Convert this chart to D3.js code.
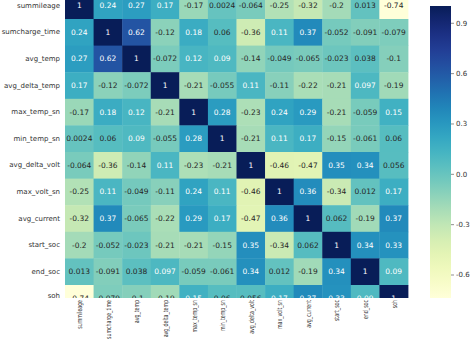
<!DOCTYPE html>
<html><head><meta charset="utf-8">
<script src="https://cdn.jsdelivr.net/npm/d3@7"></script>
<style>html,body{margin:0;padding:0;background:#fff;overflow:hidden}svg{display:block;font-family:"DejaVu Sans",sans-serif}</style>
</head><body><svg id="c" width="474" height="346"></svg>
<script>
const variables = ["summileage","sumcharge_time","avg_temp","avg_delta_temp","max_temp_sn","min_temp_sn","avg_delta_volt","max_volt_sn","avg_current","start_soc","end_soc","soh"];
const row_summileage     = [1, 0.24, 0.27, 0.17, -0.17, 0.0024, -0.064, -0.25, -0.32, -0.2, 0.013, -0.74];
const row_sumcharge_time = [0.24, 1, 0.62, -0.12, 0.18, 0.06, -0.36, 0.11, 0.37, -0.052, -0.091, -0.079];
const row_avg_temp       = [0.27, 0.62, 1, -0.072, 0.12, 0.09, -0.14, -0.049, -0.065, -0.023, 0.038, -0.1];
const row_avg_delta_temp = [0.17, -0.12, -0.072, 1, -0.21, -0.055, 0.11, -0.11, -0.22, -0.21, 0.097, -0.19];
const row_max_temp_sn    = [-0.17, 0.18, 0.12, -0.21, 1, 0.28, -0.23, 0.24, 0.29, -0.21, -0.059, 0.15];
const row_min_temp_sn    = [0.0024, 0.06, 0.09, -0.055, 0.28, 1, -0.21, 0.11, 0.17, -0.15, -0.061, 0.06];
const row_avg_delta_volt = [-0.064, -0.36, -0.14, 0.11, -0.23, -0.21, 1, -0.46, -0.47, 0.35, 0.34, 0.056];
const row_max_volt_sn    = [-0.25, 0.11, -0.049, -0.11, 0.24, 0.11, -0.46, 1, 0.36, -0.34, 0.012, 0.17];
const row_avg_current    = [-0.32, 0.37, -0.065, -0.22, 0.29, 0.17, -0.47, 0.36, 1, 0.062, -0.19, 0.37];
const row_start_soc      = [-0.2, -0.052, -0.023, -0.21, -0.21, -0.15, 0.35, -0.34, 0.062, 1, 0.34, 0.33];
const row_end_soc        = [0.013, -0.091, 0.038, 0.097, -0.059, -0.061, 0.34, 0.012, -0.19, 0.34, 1, 0.09];
const row_soh            = [-0.74, -0.079, -0.1, -0.19, 0.15, 0.06, 0.056, 0.17, 0.37, 0.33, 0.09, 1];
const colorbarTicks = [0.9, 0.6, 0.3, 0.0, -0.3, -0.6];

const rows = [row_summileage,row_sumcharge_time,row_avg_temp,row_avg_delta_temp,row_max_temp_sn,row_min_temp_sn,row_avg_delta_volt,row_max_volt_sn,row_avg_current,row_start_soc,row_end_soc,row_soh];
const cells = [];
rows.forEach((r,i)=>r.forEach((v,j)=>cells.push({row:variables[i], col:variables[j], v})));
const vmin = d3.min(cells,d=>d.v), vmax = d3.max(cells,d=>d.v);

const svg = d3.select("#c");
const x = d3.scaleBand().domain(variables).range([65,408]);
const y = d3.scaleBand().domain(variables).range([-7.6,311.6]);
const color = d3.scaleSequential(d3.interpolateYlGnBu).domain([vmin,vmax]);
const clipBottom = 298;

svg.append("defs").append("clipPath").attr("id","hm").append("rect")
  .attr("x",0).attr("y",0).attr("width",474).attr("height",clipBottom);

const g = svg.append("g").attr("clip-path","url(#hm)");
g.selectAll("rect.cell").data(cells).join("rect").attr("class","cell")
  .attr("x",d=>x(d.col)).attr("y",d=>y(d.row))
  .attr("width",x.bandwidth()+0.4).attr("height",y.bandwidth()+0.4)
  .attr("fill",d=>color(d.v));

function lum(c){
  const rgb=d3.rgb(c);
  const f=u=>{u/=255;return u<=0.03928?u/12.92:Math.pow((u+0.055)/1.055,2.4);};
  return 0.2126*f(rgb.r)+0.7152*f(rgb.g)+0.0722*f(rgb.b);
}
g.selectAll("text.ann").data(cells).join("text").attr("class","ann")
  .attr("x",d=>x(d.col)+x.bandwidth()/2)
  .attr("y",d=>y(d.row)+y.bandwidth()/2)
  .attr("text-anchor","middle").attr("dominant-baseline","central")
  .attr("font-size",7.5)
  .attr("fill",d=>lum(color(d.v))>0.408?"#262626":"#ffffff")
  .text(d=>String(d.v));

// y labels
svg.selectAll("text.yl").data(variables).join("text").attr("class","yl")
  .attr("x",60).attr("y",d=>Math.min(y(d)+y.bandwidth()/2, 296))
  .attr("text-anchor","end").attr("dominant-baseline","central")
  .attr("font-size",7).attr("fill","#333").text(d=>d);

// x labels (rotated, vertically compressed like the reference)
svg.selectAll("text.xl").data(variables).join("text").attr("class","xl")
  .attr("transform",d=>`translate(${x(d)+x.bandwidth()/2},300) scale(1,0.67) rotate(-90)`)
  .attr("text-anchor","end").attr("dominant-baseline","central")
  .attr("font-size",7).attr("fill","#333").text(d=>d);

// colorbar
const cbX=430, cbW=21;
const cy = d3.scaleLinear().domain([vmin,vmax]).range([298,6]);
const grad = svg.select("defs").append("linearGradient").attr("id","cbg")
  .attr("x1",0).attr("y1",1).attr("x2",0).attr("y2",0);
d3.range(0,1.0001,0.05).forEach(t=>{
  grad.append("stop").attr("offset",t).attr("stop-color",color(vmin+t*(vmax-vmin)));
});
svg.append("rect").attr("x",cbX).attr("y",cy(vmax)).attr("width",cbW).attr("height",cy(vmin)-cy(vmax))
  .attr("fill","url(#cbg)");
const axis = d3.axisRight(cy).tickValues(colorbarTicks).tickSize(3).tickPadding(2)
  .tickFormat(d=>d.toFixed(1));
const ag = svg.append("g").attr("transform",`translate(${cbX+cbW},0)`).call(axis);
ag.select(".domain").remove();
ag.selectAll("line").attr("stroke","#444").attr("stroke-width",0.6);
ag.selectAll("text").attr("font-size",7).attr("fill","#333").attr("font-family","DejaVu Sans, sans-serif");
</script></body></html>
